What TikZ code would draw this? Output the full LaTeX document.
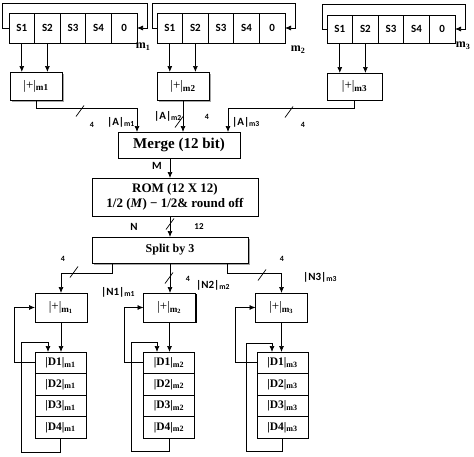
\documentclass[tikz,border=0pt]{standalone}
\usepackage{fontspec}
\setmainfont{Liberation Serif}
\setsansfont{Carlito}
\usetikzlibrary{positioning,arrows,arrows.meta,shadows}

\newcommand{\busmark}[1]{\draw (#1) ++(-4,5.5) -- ++(8,-11);}

\begin{document}
\begin{tikzpicture}[x=1pt,y=-1pt,>={Latex[length=6pt,width=5pt]},line width=0.7pt,node distance=0pt]
        \tikzstyle{every node}=[outer sep=0pt]
        \tikzstyle{cell}=[draw,minimum width=25.6pt,minimum height=30pt,inner sep=0pt,font=\sffamily\bfseries\fontsize{11}{12}\selectfont]
        \tikzstyle{dcell}=[draw,minimum width=51pt,minimum height=21.5pt,inner sep=0pt,font=\bfseries\fontsize{11.5}{12}\selectfont]
        \tikzstyle{adder}=[draw,fill=white,minimum width=52pt,minimum height=28pt,inner sep=0pt,font=\fontsize{13}{14}\selectfont]
        \tikzstyle{shade}=[drop shadow={shadow xshift=1.5pt,shadow yshift=-1.5pt,fill=gray!70,opacity=1}]
        \tikzstyle{lbl}=[inner sep=0pt,font=\sffamily\bfseries\fontsize{11}{12}\selectfont]
        \tikzstyle{num}=[inner sep=0pt,font=\sffamily\bfseries\fontsize{8}{9}\selectfont]
        \useasboundingbox (0,0) rectangle (474,456);

        % shift registers
        \node[cell] (r1a) at (21.8,28) {S1};
        \node[cell,right=of r1a] (r1b) {S2};
        \node[cell,right=of r1b] (r1c) {S3};
        \node[cell,right=of r1c] (r1d) {S4};
        \node[cell,right=of r1d] (r1e) {0};
        \node[cell] (r2a) at (169.8,28) {S1};
        \node[cell,right=of r2a] (r2b) {S2};
        \node[cell,right=of r2b] (r2c) {S3};
        \node[cell,right=of r2c] (r2d) {S4};
        \node[cell,right=of r2d] (r2e) {0};
        \node[cell,minimum height=28pt] (r3a) at (339.8,29) {S1};
        \node[cell,minimum height=28pt,right=of r3a] (r3b) {S2};
        \node[cell,minimum height=28pt,right=of r3b] (r3c) {S3};
        \node[cell,minimum height=28pt,right=of r3c] (r3d) {S4};
        \node[cell,minimum height=28pt,right=of r3d] (r3e) {0};
        \node[inner sep=0pt,font=\bfseries\fontsize{12}{13}\selectfont] (m1) at (143,47) {m\textsubscript{1}};
        \node[inner sep=0pt,font=\bfseries\fontsize{12}{13}\selectfont] (m2) at (298,50) {m\textsubscript{2}};
        \node[inner sep=0pt,font=\bfseries\fontsize{12}{13}\selectfont] (m3) at (463,46) {m\textsubscript{3}};
        \draw[->] (r1a.west) -- ++(-7,0) |- ++(145,-25) |- (r1e.east);
        \draw[->] (r2a.west) -- ++(-5,0) |- ++(143,-25) |- (r2e.east);
        \draw[->] (r3a.west) -- ++(-5,0) |- ++(143,-25) |- (r3e.east);

        % first adders
        \node[adder,shade] (a1) at (36,86) {|+|\textsubscript{\textbf{m1}}};
        \node[adder,shade] (a2) at (183,86) {|+|\textsubscript{\textbf{m2}}};
        \node[adder,minimum width=55pt,minimum height=27pt] (a3) at (354.5,86.5) {|+|\textsubscript{\textbf{m3}}};
        \draw[->] (r1a.south) -- (r1a.south |- a1.north);
        \draw[->] (r1b.south) -- (r1b.south |- a1.north);
        \draw[->] (r2a.south) -- (r2a.south |- a2.north);
        \draw[->] (r2b.south) -- (r2b.south |- a2.north);
        \draw[->] (r3a.south) -- (r3a.south |- a3.north);
        \draw[->] (r3b.south) -- (r3b.south |- a3.north);

        % merge and rom
        \node[draw,minimum width=122pt,minimum height=26pt,font=\bfseries\fontsize{15}{17}\selectfont] (mrg) at (179,145) {Merge (12 bit)};
        \node[draw,minimum width=166pt,minimum height=38pt,align=center,font=\bfseries\fontsize{13}{15}\selectfont] (rom) at (175,197) {ROM (12 X 12)\\1/2 (\textit{M}) − 1/2\& round off};
        \node[draw,fill=white,shade,minimum width=156pt,minimum height=26pt,font=\bfseries\fontsize{12}{14}\selectfont] (spl) at (170,250) {Split by 3};
        \draw[->] (a1.south) -- ++(0,8) -| ([xshift=-42pt]mrg.north);
        \draw[->] (a2.south) -- (a2.south |- mrg.north);
        \draw[->] (a3.south) -- ++(0,8) -| ([xshift=49pt]mrg.north);
        \draw[->] ([xshift=-9pt]mrg.south) -- ([xshift=-5pt]rom.north);
        \draw[->] ([xshift=-5pt]rom.south) -- (spl.north);
        \busmark{80,111}
        \busmark{179,122}
        \busmark{289,112}
        \busmark{170,224}
        \node[num] (na1) at (92,125) {4};
        \node[lbl] (la1) at (121,122) {|A|\textsubscript{m1}};
        \node[lbl] (la2) at (168,116) {|A|\textsubscript{m2}};
        \node[num] (na2) at (207,117) {4};
        \node[lbl] (la3) at (246,122) {|A|\textsubscript{m3}};
        \node[num] (na3) at (303,125) {4};
        \node[lbl] (lm) at (157,166) {M};
        \node[lbl] (ln) at (134,227) {N};
        \node[num,font=\sffamily\bfseries\fontsize{9}{10}\selectfont] (l12) at (199,227) {12};

        % second adders
        \node[adder,minimum height=29pt] (b1) at (61,307.5) {|+|\textsubscript{\textbf{m}\textsubscript{\textbf{1}}}};
        \node[adder,minimum height=29pt,drop shadow={shadow xshift=1.2pt,shadow yshift=-1.2pt,fill=black,opacity=1}] (b2) at (169.5,307.5) {|+|\textsubscript{\textbf{m}\textsubscript{\textbf{2}}}};
        \node[adder,minimum height=29pt] (b3) at (281.5,307.5) {|+|\textsubscript{\textbf{m}\textsubscript{\textbf{3}}}};
        \draw[->] ([xshift=-58pt]spl.south) -- ++(0,10) -| (b1.north);
        \draw[->] (spl.south) -- (spl.south |- b2.north);
        \draw[->] ([xshift=57pt]spl.south) -- ++(0,10) -| (b3.north);
        \busmark{74,272}
        \busmark{169,278}
        \busmark{262,275}
        \node[num] (nb1) at (63,259) {4};
        \node[lbl] (ln1) at (118,292) {|N1|\textsubscript{m1}};
        \node[num] (nb2) at (188,279) {4};
        \node[lbl] (ln2) at (213,285) {|N2|\textsubscript{m2}};
        \node[num] (nb3) at (282,259) {4};
        \node[lbl] (ln3) at (320,277) {|N3|\textsubscript{m3}};

        % output registers
        \node[dcell] (d1a) at (60.5,362.75) {|D1|\textsubscript{m1}};
        \node[dcell,below=of d1a] (d1b) {|D2|\textsubscript{m1}};
        \node[dcell,below=of d1b] (d1c) {|D3|\textsubscript{m1}};
        \node[dcell,below=of d1c] (d1d) {|D4|\textsubscript{m1}};
        \node[dcell] (d2a) at (169,362.75) {|D1|\textsubscript{m2}};
        \node[dcell,below=of d2a] (d2b) {|D2|\textsubscript{m2}};
        \node[dcell,below=of d2b] (d2c) {|D3|\textsubscript{m2}};
        \node[dcell,below=of d2c] (d2d) {|D4|\textsubscript{m2}};
        \node[dcell] (d3a) at (282.5,362.75) {|D1|\textsubscript{m3}};
        \node[dcell,below=of d3a] (d3b) {|D2|\textsubscript{m3}};
        \node[dcell,below=of d3b] (d3c) {|D3|\textsubscript{m3}};
        \node[dcell,below=of d3c] (d3d) {|D4|\textsubscript{m3}};
        \draw[->] (b1.south) -- (b1.south |- d1a.north);
        \draw[->] (b2.south) -- (b2.south |- d2a.north);
        \draw[->] (b3.south) -- (b3.south |- d3a.north);
        \draw[->] (d1a.west) -- ++(-21,0) |- (b1.west);
        \draw[->] (d2a.west) -- ++(-19,0) |- (b2.west);
        \draw[->] (d3a.west) -- ++(-22,0) |- (b3.west);
        \draw[->] (d1d.south) -- ++(0,14) -| ++(-39,-110) -| ([xshift=-12.5pt]d1a.north);
        \draw[->] (d2d.south) -- ++(0,13) -| ++(-38,-109) -| ([xshift=-12pt]d2a.north);
        \draw[->] (d3d.south) -- ++(0,13) -| ++(-36.5,-108) -| ([xshift=-10.5pt]d3a.north);
\end{tikzpicture}
\end{document}
